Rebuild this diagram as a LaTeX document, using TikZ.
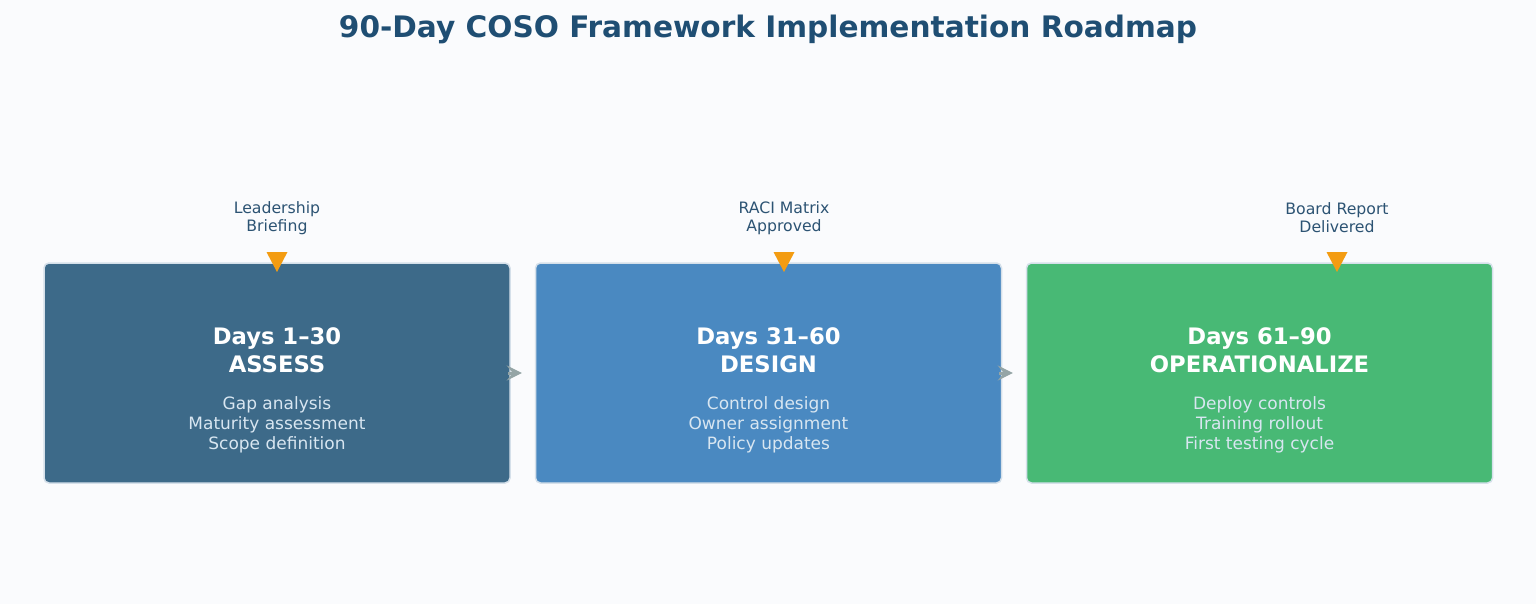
\documentclass[tikz,border=0pt]{standalone}
\usepackage{fontspec}
\setmainfont{DejaVu Sans}
\usetikzlibrary{arrows.meta}
\definecolor{bgc}{HTML}{FAFBFD}
\definecolor{titlec}{HTML}{1F4E73}
\definecolor{msc}{HTML}{2C5373}
\definecolor{c1}{HTML}{3D6A89}
\definecolor{c2}{HTML}{4A89C1}
\definecolor{c3}{HTML}{48B975}
\definecolor{edgec}{HTML}{D5E0EA}
\definecolor{subc}{HTML}{D8E6F1}
\definecolor{orangec}{HTML}{F39C12}
\definecolor{arrc}{HTML}{95A5A6}
\tikzset{
  phase/.style={draw=edgec, line width=1.5pt, rounded corners=5pt, minimum width=466pt, minimum height=220pt, inner sep=0pt},
  phasetitle/.style={text=white, font=\fontsize{22.7}{28}\selectfont\bfseries, align=center},
  phasebody/.style={text=subc, font=\fontsize{17}{20}\selectfont, align=center},
  mslabel/.style={text=msc, font=\fontsize{15.7}{18}\selectfont, align=center},
  marker/.style={fill=orangec, draw=none},
  flow/.style={draw=arrc, fill=arrc, line width=3pt, line join=round, -{Stealth[length=15pt,width=15pt,inset=6pt,line width=1pt]}, shorten >=13pt, shorten <=-3pt}
}
\begin{document}
\begin{tikzpicture}[x=1pt,y=-1pt]
\fill[bgc] (0,0) rectangle (1536,604);
\useasboundingbox (0,0) rectangle (1536,604);
\node[text=titlec, font=\fontsize{29.6}{34}\selectfont\bfseries] (title) at (768,29) {90-Day COSO Framework Implementation Roadmap};

\node[phase, fill=c1] (b1) at (277,373) {};
\node[phase, fill=c2] (b2) at (768.5,373) {};
\node[phase, fill=c3] (b3) at (1259.5,373) {};

\draw[flow] (b1.east) -- (b2.west);
\draw[flow] (b2.east) -- (b3.west);

\node[phasetitle] (t1) at (277,350) {Days 1–30\\ASSESS};
\node[phasetitle] (t2) at (768.5,350) {Days 31–60\\DESIGN};
\node[phasetitle] (t3) at (1259.5,350) {Days 61–90\\OPERATIONALIZE};

\node[phasebody] (s1) at (277,425) {Gap analysis\\Maturity assessment\\Scope definition};
\node[phasebody] (s2) at (768.5,425) {Control design\\Owner assignment\\Policy updates};
\node[phasebody] (s3) at (1259.5,425) {Deploy controls\\Training rollout\\First testing cycle};

\node[mslabel] (m1) at (277,218) {Leadership\\Briefing};
\node[mslabel] (m2) at (784,218) {RACI Matrix\\Approved};
\node[mslabel] (m3) at (1337,218) {Board Report\\Delivered};

\fill[marker] (266.5,252) -- (287.5,252) -- (277,272) -- cycle;
\fill[marker] (773.5,252) -- (794.5,252) -- (784,272) -- cycle;
\fill[marker] (1326.5,252) -- (1347.5,252) -- (1337,272) -- cycle;
\end{tikzpicture}
\end{document}
